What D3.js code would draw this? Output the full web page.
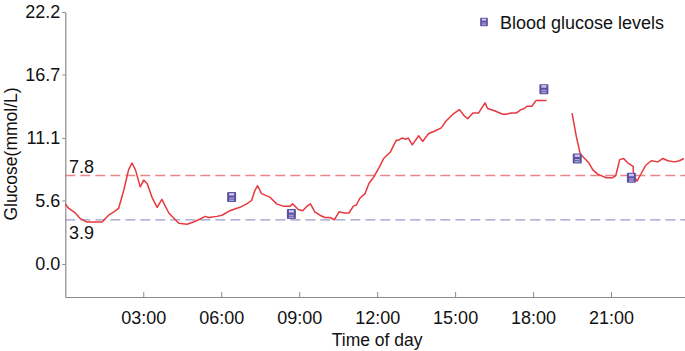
<!DOCTYPE html>
<html>
<head>
<meta charset="utf-8">
<script src="https://cdn.jsdelivr.net/npm/d3@7"></script>
<style>
	body { margin: 0; background: #fff; }
	#chart { width: 685px; height: 351px; }
	text { font-family: "Liberation Sans", Arial, sans-serif; fill: #111; }
</style>
</head>
<body>
<div id="chart"></div>
<script>

// sensor trace (mmol/L); null marks the gap in the recording
const cgmTimes = ["00:00","00:08","00:23","00:35","00:50","01:25","01:40","01:52","02:03","02:15","02:26","02:34","02:42","02:53","03:01","03:09","03:20","03:32","03:43","03:59","04:22","04:41","04:56","05:08","05:23","05:31","05:50","06:02","06:20","06:43","06:59","07:10","07:18","07:24","07:33","07:52","08:08","08:23","08:39","08:45","08:58","09:08","09:18","09:26","09:36","09:48","09:59","10:11","10:21","10:32","10:45","10:55","11:05","11:12","11:20","11:32","11:41","11:51","12:06","12:15","12:31","12:44","12:49","12:57","13:07","13:12","13:21","13:36","13:45","13:59","14:12","14:28","14:39","14:55","15:10","15:20","15:29","15:41","15:54","16:09","16:15","16:31","16:50","16:58","17:09","17:21","17:32","17:40","17:46","17:57","18:07","18:15","18:31","19:00","19:30","19:40","19:49","19:59","20:09","20:18","20:30","20:49","21:03","21:11","21:20","21:29","21:39","21:51","21:52","22:00","22:10","22:20","22:33","22:48","23:00","23:11","23:27","23:38","23:48"];
const cgmValues = [5.3,4.9,4.5,4.0,3.7,3.7,4.3,4.6,4.9,6.5,8.3,8.9,8.3,6.8,7.4,7.1,5.9,5.0,5.7,4.5,3.6,3.5,3.7,3.9,4.2,4.1,4.2,4.3,4.7,5.0,5.3,5.6,6.5,6.9,6.2,5.9,5.3,5.1,5.1,5.3,4.8,4.7,5.1,5.3,4.6,4.3,4.1,4.1,3.9,4.6,4.5,4.5,5.1,5.2,5.8,6.2,7.1,7.6,8.6,9.3,9.9,10.9,10.9,11.1,11.0,11.1,10.5,11.3,10.8,11.5,11.7,12.0,12.6,13.2,13.6,13.1,12.8,13.3,13.3,14.2,13.7,13.5,13.2,13.2,13.3,13.3,13.6,13.7,13.9,13.9,14.4,14.4,14.4,null,13.3,11.2,9.7,9.3,8.9,8.3,7.9,7.6,7.6,7.8,9.2,9.3,8.9,8.6,7.8,7.3,8.0,8.7,9.1,9.0,9.3,9.1,9.0,9.1,9.3];

// finger-stick readings
const meterTimes = ["06:24","08:42","18:25","19:42","21:47"];
const meterValues = [5.9,4.4,15.4,9.3,7.6];

const xTickLabels = ["03:00","06:00","09:00","12:00","15:00","18:00","21:00"];
const yTickValues = [0.0,5.6,11.1,16.7,22.2];
const limitHigh = 7.8;
const limitLow = 3.9;
const legendLabel = "Blood glucose levels";

function drawChart(rootDOM){

	const W = 685;
	const H = 351;
	const m = {t:12,r:-4,b:54,l:65.3};

	const parseTime = d3.timeParse("%H:%M");
	const day0 = parseTime("00:00");

	const x = d3.scaleTime()
		.domain([day0, d3.timeDay.offset(day0,1)])
		.range([m.l, W-m.r]);

	const y = d3.scaleLinear()
		.domain([-2.9, 22.2])
		.range([H-m.b, m.t]);

	const svg = d3.select(rootDOM)
		.append("svg")
		.attr("width", W)
		.attr("height", H);

	// reference limits
	const limits = [
		{v:limitHigh, color:"#ec8585", label:"7.8", dy:-9},
		{v:limitLow, color:"#9a9acb", label:"3.9", dy:13}
	];

	svg.selectAll(".limit")
		.data(limits)
		.enter()
		.append("line")
		.attr("class","limit")
		.attr("x1", m.l)
		.attr("x2", W)
		.attr("y1", d => y(d.v))
		.attr("y2", d => y(d.v))
		.attr("stroke", d => d.color)
		.attr("stroke-width", 1.3)
		.attr("stroke-dasharray", "10,5");

	svg.selectAll(".limitLabel")
		.data(limits)
		.enter()
		.append("text")
		.attr("class","limitLabel")
		.attr("x", 69)
		.attr("y", d => y(d.v) + d.dy)
		.attr("dy","0.35em")
		.style("font-size","18px")
		.text(d => d.label);

	// axes
	const xAxis = d3.axisBottom(x)
		.tickValues(xTickLabels.map(parseTime))
		.tickFormat(d3.timeFormat("%H:%M"))
		.tickSizeInner(-5)
		.tickSizeOuter(0)
		.tickPadding(14);

	const gx = svg.append("g")
		.attr("transform", `translate(0,${H-m.b})`)
		.call(xAxis);

	const yAxis = d3.axisLeft(y)
		.tickValues(yTickValues)
		.tickFormat(d3.format(".1f"))
		.tickSizeInner(3)
		.tickSizeOuter(0)
		.tickPadding(2);

	const gy = svg.append("g")
		.attr("transform", `translate(${m.l},0)`)
		.call(yAxis);

	[gx, gy].forEach(g => {
		g.select(".domain").attr("stroke","#8a8a8a").attr("stroke-width",1.2);
		g.selectAll(".tick line").attr("stroke","#8a8a8a");
		g.selectAll(".tick text")
			.style("font-size","18px")
			.style("font-family","'Liberation Sans', Arial, sans-serif")
			.attr("fill","#111");
	});

	svg.append("text")
		.attr("x", (m.l + W)/2 + 2)
		.attr("y", 340)
		.attr("dy","0.35em")
		.attr("text-anchor","middle")
		.style("font-size","17.5px")
		.text("Time of day");

	svg.append("text")
		.attr("transform","translate(11,154) rotate(-90)")
		.attr("dy","0.35em")
		.attr("text-anchor","middle")
		.style("font-size","17.5px")
		.text("Glucose(mmol/L)");

	// sensor line
	const trace = cgmTimes.map((t,i) => ({t:parseTime(t), v:cgmValues[i]}));

	const line = d3.line()
		.defined(d => d.v !== null)
		.x(d => x(d.t))
		.y(d => y(d.v));

	svg.append("path")
		.datum(trace)
		.attr("d", line)
		.attr("fill","none")
		.attr("stroke","#e8383d")
		.attr("stroke-width",1.5)
		.attr("stroke-linejoin","round");

	// meter markers, drawn as small floppy icons
	function icon(g){
		g.append("rect")
			.attr("x",-4.5).attr("y",-5)
			.attr("width",9).attr("height",10)
			.attr("rx",1)
			.attr("fill","#5a50a2");
		g.append("rect")
			.attr("x",-2.5).attr("y",-4)
			.attr("width",5).attr("height",2.5)
			.attr("fill","#c9c5e6");
		g.append("rect")
			.attr("x",-2.5).attr("y",0.5)
			.attr("width",5).attr("height",3.5)
			.attr("fill","#a9a3d6");
		g.append("line")
			.attr("x1",-2.5).attr("x2",2.5)
			.attr("y1",2.2).attr("y2",2.2)
			.attr("stroke","#5a50a2")
			.attr("stroke-width",0.8);
	}

	const meters = meterTimes.map((t,i) => ({t:parseTime(t), v:meterValues[i]}));

	svg.selectAll(".meter")
		.data(meters)
		.enter()
		.append("g")
		.attr("class","meter")
		.attr("transform", d => `translate(${x(d.t)},${y(d.v)})`)
		.each(function(){ icon(d3.select(this)); });

	// legend
	const lg = svg.append("g")
		.attr("transform","translate(484,22)");
	lg.append("g")
		.attr("transform","scale(0.85)")
		.call(icon);
	lg.append("text")
		.attr("x",16)
		.attr("y",1)
		.attr("dy","0.35em")
		.style("font-size","18px")
		.text(legendLabel);
}

drawChart(document.getElementById("chart"));

</script>
</body>
</html>
